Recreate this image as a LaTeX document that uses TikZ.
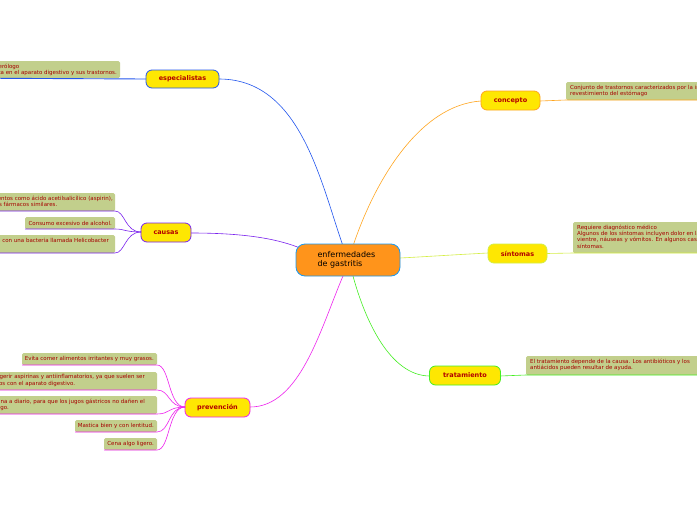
\documentclass[tikz,border=0pt]{standalone}
\usepackage{fontspec}
\setmainfont{DejaVu Sans}
\begin{document}
\begin{tikzpicture}[x=1pt,y=-1pt,
  topic/.style={draw=#1,line width=0.8pt,fill=yellow!90!orange,rounded corners=6pt,font=\bfseries\fontsize{6.5}{7}\selectfont,text=red!70!black,inner sep=0pt},
  leaf/.style={font=\fontsize{5.5}{6.3}\selectfont,text=red!65!black,inner sep=0pt,align=left},
  lk/.style={line width=0.6pt,#1}]
\definecolor{leafc}{HTML}{C2CF8C}
\definecolor{bl}{HTML}{2255EE}
\definecolor{pu}{HTML}{7A22EE}
\definecolor{ma}{HTML}{EE22EE}
\definecolor{orc}{HTML}{FFA51E}
\definecolor{yg}{HTML}{D4EE44}
\definecolor{gr}{HTML}{44EE22}
\tikzset{lf/.style={fill=leafc,rounded corners=1.5pt}}
\useasboundingbox (0,0) rectangle (697,520);
\clip (0,0) rectangle (697,520);
\fill[white] (0,0) rectangle (697,520);
% connectors center -> topics
\draw[lk=bl] (219,79) .. controls (300,79) and (320,180) .. (343,246);
\draw[lk=pu] (191,233) .. controls (250,233) and (280,240) .. (300,248);
\draw[lk=ma] (250,407) .. controls (300,407) and (320,330) .. (343,276);
\draw[lk=orc] (481,101) .. controls (420,105) and (375,180) .. (353,246);
\draw[lk=yg] (488,253) .. controls (450,255) and (420,257) .. (400,258);
\draw[lk=gr] (430,376) .. controls (390,376) and (365,320) .. (353,276);
% center
\node[draw=bl!60!cyan,line width=0.8pt,fill=orc!90!red,rounded corners=9pt,minimum width=104pt,minimum height=32pt,inner sep=0pt] (ctr) at (348,260) {};
\node[anchor=west,align=left,font=\fontsize{8}{9.5}\selectfont] (ctrt) at (314,260) {enfermedades\\de gastritis};
% topics
\node[topic=bl,minimum width=73pt,minimum height=18pt] (esp) at (182.5,79) {especialistas};
\node[topic=pu,minimum width=50pt,minimum height=19pt] (cau) at (166,232.5) {causas};
\node[topic=ma,minimum width=65pt,minimum height=19pt] (pre) at (217.5,407.5) {prevención};
\node[topic=orc,minimum width=59pt,minimum height=19pt] (con) at (510.5,100.5) {concepto};
\node[topic=yg,minimum width=59pt,minimum height=19pt] (sin) at (517.5,253.5) {síntomas};
\node[topic=gr,minimum width=71pt,minimum height=19pt] (tra) at (465,375.5) {tratamiento};
% especialistas leaf
\fill[lf] (-60,61) rectangle (120,78);
\node[leaf,anchor=north east] (e1) at (117,63.5) {Gastroenterólogo\\Especialista en el aparato digestivo y sus trastornos.};
\draw[lk=bl,line width=0.9pt] (-60,78) -- (146,79);
% causas leaves
\fill[lf] (-120,193) rectangle (115,211);
\node[leaf,anchor=north east] (c1) at (113,195.5) {Uso de medicamentos como ácido acetilsalicílico (aspirin),\\ibuprofeno y otros fármacos similares.};
\fill[lf] (25,217) rectangle (115,229);
\node[leaf,anchor=east] (c2) at (112,223) {Consumo excesivo de alcohol.};
\fill[lf] (-120,235) rectangle (115,253);
\node[leaf,anchor=north east] (c3) at (109,238) {Infección con una bacteria llamada Helicobacter\\pylori.};
\draw[lk=pu] (-120,211) -- (115,211) .. controls (125,211) and (125,232) .. (141,232);
\draw[lk=pu] (25,229) -- (115,229) .. controls (125,229) and (125,232) .. (141,232);
\draw[lk=pu] (-120,253) -- (115,253) .. controls (125,253) and (125,232) .. (141,232);
% prevencion leaves
\fill[lf] (22,353) rectangle (157,365);
\node[leaf,anchor=east] (p1) at (154,359) {Evita comer alimentos irritantes y muy grasos.};
\fill[lf] (-100,372) rectangle (157,390);
\node[leaf,anchor=north east] (p2) at (145,374.5) {Evita ingerir aspirinas y antiinflamatorios, ya que suelen ser\\agresivos con el aparato digestivo.};
\fill[lf] (-100,396) rectangle (157,414);
\node[leaf,anchor=north east] (p3) at (145,398.5) {Desayuna a diario, para que los jugos gástricos no dañen el\\estómago.};
\fill[lf] (75,420) rectangle (157,432);
\node[leaf,anchor=east] (p4) at (154,426) {Mastica bien y con lentitud.};
\fill[lf] (104,438) rectangle (157,450);
\node[leaf,anchor=east] (p5) at (154,444) {Cena algo ligero.};
\foreach \ya/\xa in {365/22,390/-100,414/-100,432/75,450/104}{
  \draw[lk=ma] (\xa,\ya) -- (157,\ya) .. controls (170,\ya) and (168,407) .. (185,407);
}
% concepto leaf
\fill[lf] (566,82) rectangle (720,100);
\node[leaf,anchor=north west] (k1) at (570,84.5) {Conjunto de trastornos caracterizados por la inflamación del\\revestimiento del estómago};
\draw[lk=orc] (540,101) -- (566,100) -- (720,100);
% sintomas leaf
\fill[lf] (573,222) rectangle (720,253);
\node[leaf,anchor=north west] (s1) at (577,224.5) {Requiere diagnóstico médico\\Algunos de los síntomas incluyen dolor en la parte superior del\\vientre, náuseas y vómitos. En algunos casos no se presentan\\síntomas.};
\draw[lk=yg] (547,253.5) -- (573,253) -- (720,253);
% tratamiento leaf
\fill[lf] (526,356) rectangle (720,375);
\node[leaf,anchor=north west] (t1) at (530,358.5) {El tratamiento depende de la causa. Los antibióticos y los\\antiácidos pueden resultar de ayuda.};
\draw[lk=gr] (500,376) -- (526,375) -- (720,375);
\end{tikzpicture}
\end{document}
